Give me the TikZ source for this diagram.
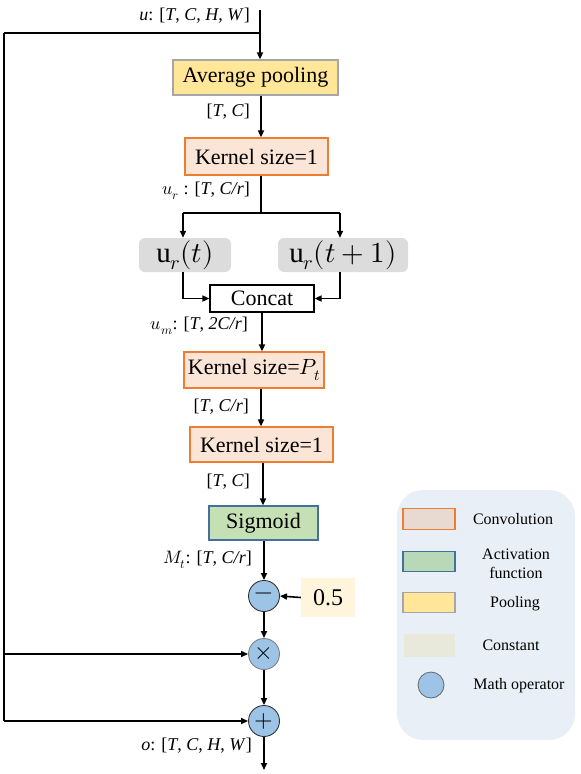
\documentclass[tikz,border=0pt]{standalone}
\usepackage{fontspec}
\usepackage{unicode-math}
\setmainfont{Liberation Serif}
\setmathfont{Latin Modern Math}
\usetikzlibrary{arrows.meta,calc}
\definecolor{poolF}{HTML}{FFE699}
\definecolor{poolD}{HTML}{A6A6A6}
\definecolor{convF}{HTML}{FBE5D6}
\definecolor{convD}{HTML}{ED7D31}
\definecolor{actF}{HTML}{C5E0B4}
\definecolor{actD}{HTML}{41719C}
\definecolor{grayF}{HTML}{DCDCDC}
\definecolor{opF}{HTML}{9DC3E6}
\definecolor{constF}{HTML}{FFF5DC}
\definecolor{legF}{HTML}{E9EFF7}
\definecolor{legConv}{HTML}{E8DAD0}
\definecolor{legAct}{HTML}{B8D8B8}
\definecolor{legConst}{HTML}{E8E9DA}
\tikzset{
  box/.style={draw,line width=1.2pt,minimum height=#1,inner sep=0pt,font=\fontsize{22}{25}\selectfont},
  pool/.style={fill=poolF,draw=poolD},
  conv/.style={fill=convF,draw=convD},
  act/.style={fill=actF,draw=actD},
  grayb/.style={draw=none,fill=grayF,rounded corners=6pt,inner sep=0pt,font=\fontsize{29}{31}\selectfont},
  op/.style={circle,fill=opF,draw=black!80,line width=0.9pt,minimum size=31pt,inner sep=0pt,font=\fontsize{24}{26}\selectfont},
  lab/.style={anchor=east,inner sep=0pt,font=\fontsize{18}{20}\selectfont},
  arr/.style={line width=1.6pt,-{Triangle[length=7pt,width=6pt]}},
  ln/.style={line width=1.6pt},
  legt/.style={font=\fontsize{16}{19}\selectfont,align=center},
}
\begin{document}
\begin{tikzpicture}[x=1pt,y=-1pt]
\useasboundingbox (0,0) rectangle (581,774);
% legend background
\node[fill=legF,rounded corners=26pt,minimum width=178pt,minimum height=250pt,inner sep=0pt] (leg) at (486,615) {};
% main nodes
\node[box=35pt,pool,minimum width=165pt] (avg) at (255.5,77.5) {Average pooling};
\node[box=37pt,conv,minimum width=143pt] (k1) at (256.5,156.5) {Kernel size=1};
\node[grayb,minimum width=92pt,minimum height=34pt] (urt) at (185,255) {$\mathrm{u}_r(t)$};
\node[grayb,minimum width=130pt,minimum height=34pt] (ur1) at (343,255) {$\mathrm{u}_r(t+1)$};
\node[box=27pt,draw=black,fill=white,minimum width=104pt] (cat) at (262,298.5) {Concat};
\node[box=36pt,conv,minimum width=140pt] (kp) at (254,370) {Kernel size=$P_t$};
\node[box=35pt,conv,minimum width=143pt] (k2) at (261.5,444.5) {Kernel size=1};
\node[box=34pt,act,minimum width=109pt] (sig) at (263.5,523) {Sigmoid};
\node[op] (minus) at (264,596) {$-$};
\node[fill=constF,minimum width=54pt,minimum height=39pt,inner sep=0pt,font=\fontsize{24}{26}\selectfont] (half) at (328,597.5) {0.5};
\node[op,draw=black!50] (times) at (264,654) {$\times$};
\node[op] (plus) at (264,721) {$+$};
% coordinates
\coordinate (in) at (260,10);
\coordinate (lt) at (4,33);
\coordinate (br) at (261,213);
\coordinate (out) at (264,770);
% labels
\node[lab] at (250,16) {\textit{u}: [\textit{T}, \textit{C}, \textit{H}, \textit{W}]};
\node[lab] at (250,112) {[\textit{T}, \textit{C}]};
\node[lab] at (250,191) {$u_r$ : [\textit{T}, \textit{C/r}]};
\node[lab] at (248,326) {$u_m$: [\textit{T}, \textit{2C/r}]};
\node[lab] at (249,407) {[\textit{T}, \textit{C/r}]};
\node[lab] at (250,482) {[\textit{T}, \textit{C}]};
\node[lab] at (252,560) {$M_t$: [\textit{T}, \textit{C/r}]};
\node[lab] at (252,746) {\textit{o}: [\textit{T}, \textit{C}, \textit{H}, \textit{W}]};
% connectors
\draw[arr] (in) -- (in |- avg.north);
\draw[ln] (lt) -- (lt -| in);
\draw[arr] (avg.south -| br) -- (k1.north -| br);
\draw[ln] (k1.south -| br) -- (br);
\draw[ln] (br -| 183,0) -- (br -| 340,0);
\draw[arr] (br -| 183,0) -- (urt.north -| 183,0);
\draw[arr] (br -| 340,0) -- (ur1.north -| 340,0);
\draw[arr] (urt.south -| 183,0) |- (cat.west);
\draw[arr] (ur1.south -| 340,0) |- (cat.east);
\draw[arr] (cat.south -| 262,0) -- (kp.north -| 262,0);
\draw[arr] (kp.south -| 261,0) -- (k2.north -| 261,0);
\draw[arr] (k2.south -| 263,0) -- (sig.north -| 263,0);
\draw[arr] (sig.south -| minus) -- (minus.north);
\draw[arr] (half.west) -- (minus.east);
\draw[arr] (minus.south) -- (times.north);
\draw[arr] (times.south) -- (plus.north);
\draw[ln] (lt) -- (lt |- plus);
\draw[arr] (lt |- times) -- (times.west);
\draw[arr] (lt |- plus) -- (plus.west);
\draw[arr] (plus.south) -- (out);
% legend items
\node[draw=convD,fill=legConv,line width=1.2pt,minimum width=52pt,minimum height=21pt,inner sep=0pt] (lc) at (429,519) {};
\node[draw=actD,fill=legAct,line width=1.2pt,minimum width=52pt,minimum height=20pt,inner sep=0pt] (la) at (429,561.5) {};
\node[draw=poolD,fill=poolF,line width=1.2pt,minimum width=52pt,minimum height=20pt,inner sep=0pt] (lp) at (429,602.5) {};
\node[fill=legConst,minimum width=51pt,minimum height=23pt,inner sep=0pt] (lk) at (429.5,645.5) {};
\node[circle,fill=opF,draw=black!60,line width=0.8pt,minimum size=26pt,inner sep=0pt] (lo) at (431,685) {};
\node[legt] at (513,519) {Convolution};
\node[legt] at (516,564) {Activation\\function};
\node[legt] at (515,604) {Pooling};
\node[legt] at (511,645) {Constant};
\node[legt] at (519,686) {Math operator};
\end{tikzpicture}
\end{document}
